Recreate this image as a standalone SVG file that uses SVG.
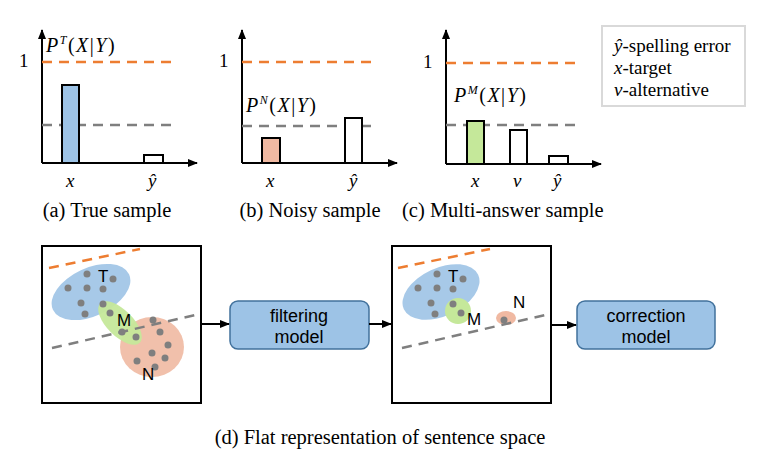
<svg xmlns="http://www.w3.org/2000/svg" width="762" height="467" viewBox="0 0 762 467">
<style>
.ax{stroke:#000;stroke-width:2;fill:none}
.od{stroke:#ed7d31;stroke-width:2.5;stroke-dasharray:10,7;fill:none}
.gd{stroke:#7f7f7f;stroke-width:2.5;stroke-dasharray:10,7;fill:none}
.bar{stroke:#000;stroke-width:2}
.t{font-family:"Liberation Serif",serif;font-size:19px;fill:#000}
.c{font-family:"Liberation Serif",serif;font-size:20.5px;fill:#000}
.m{font-family:"Liberation Serif",serif;font-size:19px;font-style:italic;fill:#000}
.p{font-family:"Liberation Serif",serif;font-size:20px;font-style:italic;fill:#000;letter-spacing:1.5px}
.s{font-family:"Liberation Sans",sans-serif;font-size:17px;fill:#000}
.d{fill:#7f7f7f}
.box{fill:#9dc3e6;stroke:#41719c;stroke-width:1.5}
.frame{fill:#fff;stroke:#000;stroke-width:2}
.bt{font-family:"Liberation Sans",sans-serif;font-size:18px;fill:#000;text-anchor:middle}
</style>
<defs>
<marker id="ah" markerWidth="10" markerHeight="8" refX="9" refY="4" orient="auto" markerUnits="userSpaceOnUse"><path d="M0,0L10,4L0,8z" fill="#000"/></marker>
</defs>
<g id="chartA">
<path class="ax" d="M42,163V30" marker-end="url(#ah)"/><path class="ax" d="M42,163H197" marker-end="url(#ah)"/>
<path class="od" d="M42,62H175"/><path class="gd" d="M42,125H175"/>
<rect class="bar" x="62" y="85" width="17" height="78" fill="#9dc3e6"/>
<rect class="bar" x="144" y="155" width="19" height="8" fill="#fff"/>
<text class="p" x="46" y="52">P<tspan font-size="12" dy="-8">T</tspan><tspan dy="8" font-style="normal">(</tspan>X<tspan font-style="normal">|</tspan>Y<tspan font-style="normal">)</tspan></text>
<text class="t" x="19" y="67">1</text>
<text class="m" x="66" y="187">x</text><text class="m" x="148" y="187">ŷ</text>
<text class="c" x="107" y="217" text-anchor="middle">(a) True sample</text>
</g>
<g id="chartB">
<path class="ax" d="M242,163V30" marker-end="url(#ah)"/><path class="ax" d="M242,163H397" marker-end="url(#ah)"/>
<path class="od" d="M242,62H375"/><path class="gd" d="M242,126H375"/>
<rect class="bar" x="262" y="138" width="18" height="25" fill="#f0b9a2"/>
<rect class="bar" x="345" y="118" width="17" height="45" fill="#fff"/>
<text class="p" x="246" y="112">P<tspan font-size="12" dy="-8">N</tspan><tspan dy="8" font-style="normal">(</tspan>X<tspan font-style="normal">|</tspan>Y<tspan font-style="normal">)</tspan></text>
<text class="t" x="219" y="67">1</text>
<text class="m" x="266" y="187">x</text><text class="m" x="349" y="187">ŷ</text>
<text class="c" x="310" y="217" text-anchor="middle">(b) Noisy sample</text>
</g>
<g id="chartC">
<path class="ax" d="M446,164V30" marker-end="url(#ah)"/><path class="ax" d="M446,164H601" marker-end="url(#ah)"/>
<path class="od" d="M446,63H580"/><path class="gd" d="M446,125H580"/>
<rect class="bar" x="467" y="121" width="17" height="43" fill="#c5e89a"/>
<rect class="bar" x="510" y="130" width="17" height="34" fill="#fff"/>
<rect class="bar" x="549" y="156" width="19" height="8" fill="#fff"/>
<text class="p" x="454" y="102">P<tspan font-size="12" dy="-8">M</tspan><tspan dy="8" font-style="normal">(</tspan>X<tspan font-style="normal">|</tspan>Y<tspan font-style="normal">)</tspan></text>
<text class="t" x="423" y="68">1</text>
<text class="m" x="471" y="187">x</text><text class="m" x="513" y="187">v</text><text class="m" x="553" y="187">ŷ</text>
<text class="c" x="402" y="217">(c) Multi-answer sample</text>
</g>
<g id="legend">
<rect x="602" y="26" width="143" height="80" fill="#fff" stroke="#d9d9d9" stroke-width="2"/>
<text class="t" x="614" y="52"><tspan font-style="italic">ŷ</tspan>-spelling error</text>
<text class="t" x="614" y="74"><tspan font-style="italic">x</tspan>-target</text>
<text class="t" x="614" y="96"><tspan font-style="italic">v</tspan>-alternative</text>
</g>
<g id="space1">
<rect class="frame" x="42" y="246" width="159" height="157"/>
<path class="od" d="M49,268L140,249"/>
<ellipse cx="91" cy="292" rx="42" ry="24" transform="rotate(-25 91 292)" fill="#9dc3e6" opacity="0.9"/>
<ellipse cx="152" cy="347" rx="32" ry="30" fill="#f0b9a2" opacity="0.9"/>
<ellipse cx="120" cy="323" rx="28" ry="13" transform="rotate(45 120 323)" fill="#c5e89a" opacity="0.95"/>
<path class="gd" d="M52,348L195,315"/>
<g class="d"><circle cx="87" cy="274" r="3.5"/><circle cx="113" cy="279" r="3.5"/><circle cx="68" cy="288" r="3.5"/><circle cx="87" cy="288" r="3.5"/><circle cx="103" cy="289" r="3.5"/><circle cx="81" cy="303" r="3.5"/><circle cx="85" cy="314" r="3.5"/><circle cx="103" cy="304" r="3.5"/><circle cx="110" cy="313" r="3.5"/><circle cx="153" cy="320" r="3.5"/><circle cx="122" cy="332" r="3.5"/><circle cx="136" cy="337" r="3.5"/><circle cx="160" cy="332" r="3.5"/><circle cx="168" cy="345" r="3.5"/><circle cx="152" cy="353" r="3.5"/><circle cx="137" cy="361" r="3.5"/><circle cx="165" cy="358" r="3.5"/><circle cx="155" cy="367" r="3.5"/></g>
<text class="s" x="98" y="282">T</text><text class="s" x="117" y="326">M</text><text class="s" x="142" y="380">N</text>
</g>
<g id="filter"><rect class="box" x="230" y="301" width="139" height="48" rx="8"/><text class="bt" x="299" y="322">filtering</text><text class="bt" x="299" y="343">model</text></g>
<g id="space2">
<rect class="frame" x="392" y="246" width="159" height="157"/>
<path class="od" d="M398,268L490,249"/>
<ellipse cx="441" cy="292" rx="41" ry="24" transform="rotate(-25 441 292)" fill="#9dc3e6" opacity="0.9"/>
<circle cx="458" cy="311" r="13" fill="#c5e89a"/>
<ellipse cx="506" cy="318" rx="10" ry="7" fill="#f0b9a2"/>
<path class="gd" d="M402,348L545,315"/>
<g class="d"><circle cx="437" cy="274" r="3.5"/><circle cx="463" cy="279" r="3.5"/><circle cx="418" cy="288" r="3.5"/><circle cx="437" cy="288" r="3.5"/><circle cx="453" cy="289" r="3.5"/><circle cx="431" cy="303" r="3.5"/><circle cx="435" cy="314" r="3.5"/><circle cx="453" cy="304" r="3.5"/><circle cx="461" cy="313" r="3.5"/><circle cx="504" cy="320" r="3.5"/></g>
<text class="s" x="448" y="282">T</text><text class="s" x="467" y="325">M</text><text class="s" x="513" y="308">N</text>
</g>
<g id="correction"><rect class="box" x="577" y="301" width="138" height="48" rx="8"/><text class="bt" x="646" y="322">correction</text><text class="bt" x="646" y="343">model</text></g>
<g id="connectors">
<path class="ax" d="M201,324H229" marker-end="url(#ah)"/>
<path class="ax" d="M369,324H391" marker-end="url(#ah)"/>
<path class="ax" d="M551,325H576" marker-end="url(#ah)"/>
</g>
<text class="c" x="380" y="444" text-anchor="middle">(d) Flat representation of sentence space</text>
</svg>
